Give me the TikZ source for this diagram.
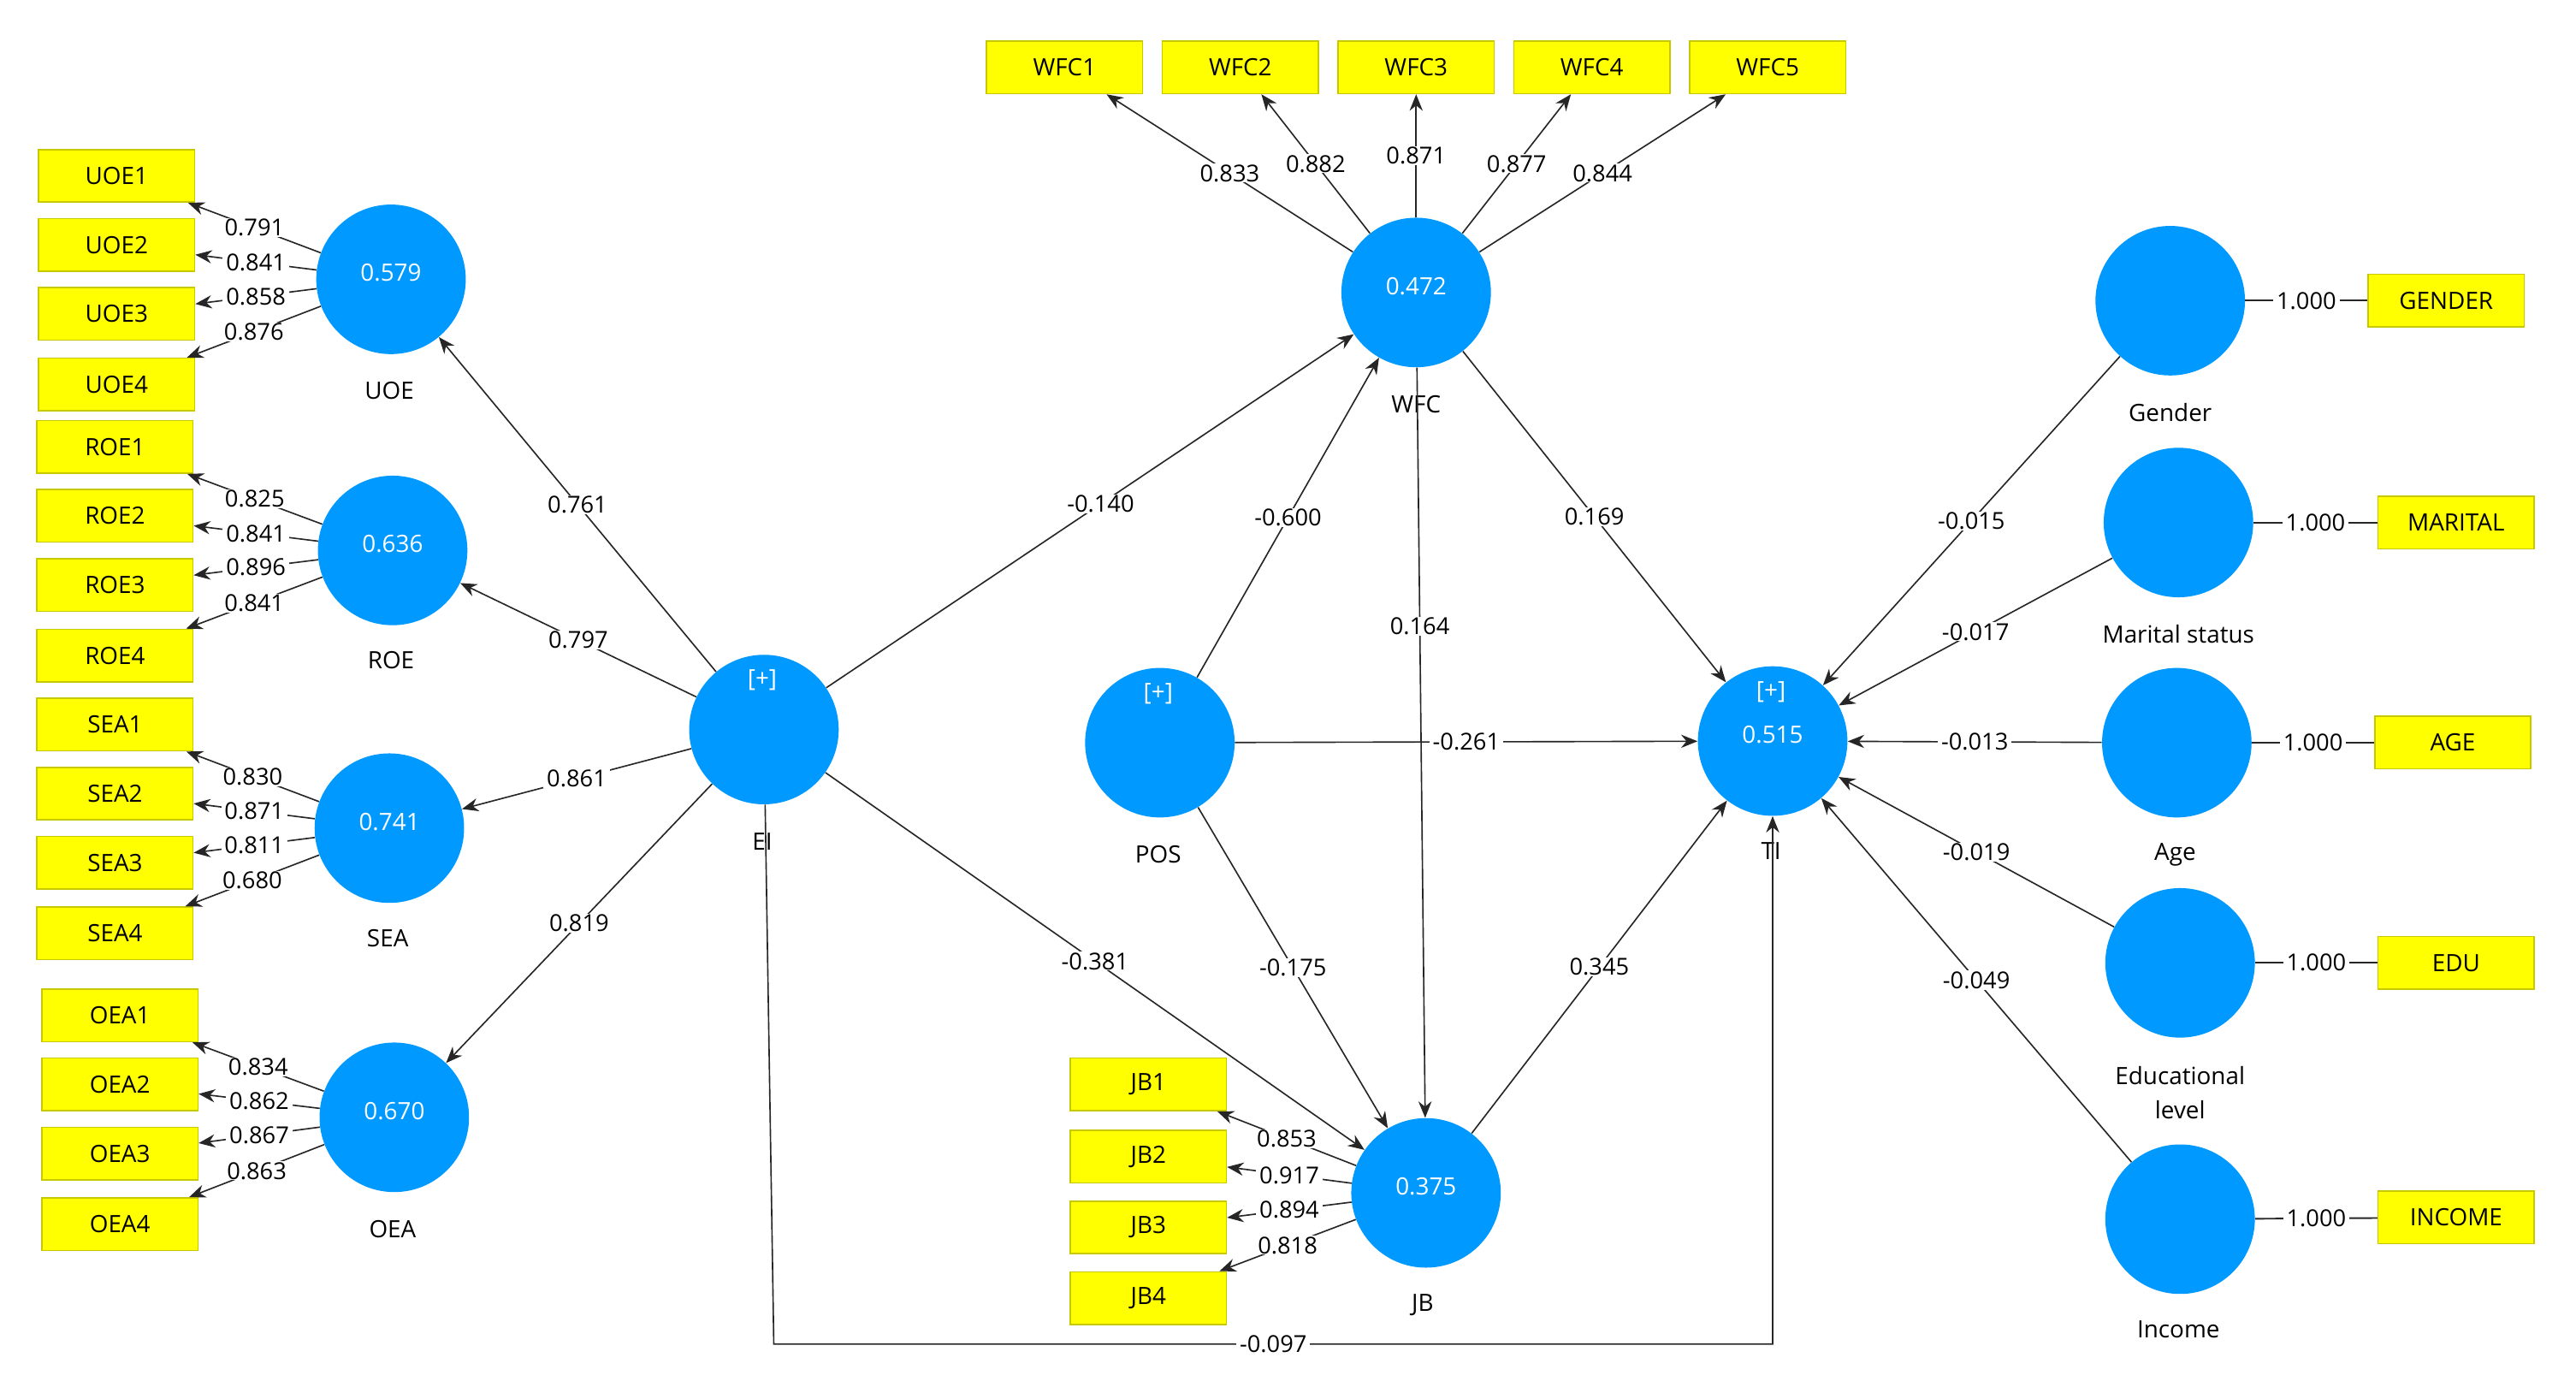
\documentclass[tikz,border=0pt]{standalone}
\usepackage{fontspec}
\setmainfont{Open Sans}
\usetikzlibrary{arrows.meta}
\definecolor{lvblue}{RGB}{0,153,255}
\definecolor{mvyellow}{RGB}{255,255,0}
\definecolor{mvborder}{RGB}{200,200,0}
\newcommand{\fsA}{\fontsize{14.5}{21}\selectfont}
\newcommand{\fsB}{\fontsize{14.2}{17}\selectfont}
\begin{document}
\begin{tikzpicture}[x=1pt,y=-1pt,
  lv/.style={circle,fill=lvblue,minimum size=91pt,inner sep=0pt},
  mv/.style={rectangle,fill=mvyellow,draw=mvborder,line width=0.8pt,minimum width=95pt,minimum height=32pt,inner sep=0pt,font=\fsA},
  lvtext/.style={text=white,font=\fsA,inner sep=0pt},
  lbl/.style={font=\fsA,inner sep=0pt,align=center},
  coef/.style={fill=white,inner xsep=2pt,inner ysep=0.5pt,font=\fsB},
  arr/.style={draw=black!85,line width=0.85pt,-{Stealth[length=10pt,width=8pt]}},
  link/.style={draw=black!85,line width=1pt}]
\useasboundingbox (0,0) rectangle (1568,844);
\fill[white] (0,0) rectangle (1568,844);

% latent variables
\node[lv] (UOE) at (238,170) {};
\node[lv] (ROE) at (239,335) {};
\node[lv] (SEA) at (237,504) {};
\node[lv] (OEA) at (240,680) {};
\node[lv] (EI) at (465,444) {};
\node[lv] (POS) at (706,452) {};
\node[lv] (WFC) at (862,178) {};
\node[lv] (TI) at (1079,451) {};
\node[lv] (JB) at (868,726) {};
\node[lv] (Gender) at (1321,183) {};
\node[lv] (Marital) at (1326,318) {};
\node[lv] (Age) at (1325,452) {};
\node[lv] (Edu) at (1327,586) {};
\node[lv] (Income) at (1327,742) {};

% values inside circles
\node[lvtext] (UOEv) at (238,166) {0.579};
\node[lvtext] (ROEv) at (239,331) {0.636};
\node[lvtext] (SEAv) at (237,500) {0.741};
\node[lvtext] (OEAv) at (240,676) {0.670};
\node[lvtext] (WFCv) at (862,174) {0.472};
\node[lvtext] (JBv) at (868,722) {0.375};
\node[lvtext] (TIv) at (1079,447) {0.515};
\node[lvtext] (TIp) at (1078,421) {[+]};
\node[lvtext] (EIp) at (464,414) {[+]};
\node[lvtext] (POSp) at (705,422) {[+]};

% names below circles
\node[lbl] (UOEl) at (237,238) {UOE};
\node[lbl] (ROEl) at (238,402) {ROE};
\node[lbl] (SEAl) at (236,571) {SEA};
\node[lbl] (OEAl) at (239,748) {OEA};
\node[lbl] (EIl) at (464,512) {EI};
\node[lbl] (POSl) at (705,520) {POS};
\node[lbl] (WFCl) at (862,246) {WFC};
\node[lbl] (TIl) at (1078,518) {TI};
\node[lbl] (JBl) at (866,794) {JB};
\node[lbl] (Genderl) at (1321,251) {Gender};
\node[lbl] (Maritall) at (1326,386) {Marital status};
\node[lbl] (Agel) at (1324,520) {Age};
\node[lbl] (Edul) at (1327,665) {Educational\\level};
\node[lbl] (Incomel) at (1326,809) {Income};

% indicators
\foreach \i/\y in {1/107,2/149,3/191,4/234} \node[mv] (UOE\i) at (71,\y) {UOE\i};
\foreach \i/\y in {1/272,2/314,3/356,4/399} \node[mv] (ROE\i) at (70,\y) {ROE\i};
\foreach \i/\y in {1/441,2/483,3/525,4/568} \node[mv] (SEA\i) at (70,\y) {SEA\i};
\foreach \i/\y in {1/618,2/660,3/702,4/745} \node[mv] (OEA\i) at (73,\y) {OEA\i};
\foreach \i/\x in {1/648,2/755,3/862,4/969,5/1076} \node[mv] (WFC\i) at (\x,41) {WFC\i};
\foreach \i/\y in {1/660,2/704,3/747,4/790} \node[mv] (JB\i) at (699,\y) {JB\i};
\node[mv] (GENDER) at (1489,183) {GENDER};
\node[mv] (MARITAL) at (1495,318) {MARITAL};
\node[mv] (AGE) at (1493,452) {AGE};
\node[mv] (EDU) at (1495,586) {EDU};
\node[mv] (INCOME) at (1495,741) {INCOME};

% loadings
\draw[arr] (UOE) -- node[coef] {0.791} (UOE1);
\draw[arr] (UOE) -- node[coef] {0.841} (UOE2);
\draw[arr] (UOE) -- node[coef] {0.858} (UOE3);
\draw[arr] (UOE) -- node[coef] {0.876} (UOE4);
\draw[arr] (ROE) -- node[coef] {0.825} (ROE1);
\draw[arr] (ROE) -- node[coef] {0.841} (ROE2);
\draw[arr] (ROE) -- node[coef] {0.896} (ROE3);
\draw[arr] (ROE) -- node[coef] {0.841} (ROE4);
\draw[arr] (SEA) -- node[coef] {0.830} (SEA1);
\draw[arr] (SEA) -- node[coef] {0.871} (SEA2);
\draw[arr] (SEA) -- node[coef] {0.811} (SEA3);
\draw[arr] (SEA) -- node[coef] {0.680} (SEA4);
\draw[arr] (OEA) -- node[coef] {0.834} (OEA1);
\draw[arr] (OEA) -- node[coef] {0.862} (OEA2);
\draw[arr] (OEA) -- node[coef] {0.867} (OEA3);
\draw[arr] (OEA) -- node[coef] {0.863} (OEA4);
\draw[arr] (WFC) -- node[coef] {0.833} (WFC1);
\draw[arr] (WFC) -- node[coef] {0.882} (WFC2);
\draw[arr] (WFC) -- node[coef] {0.871} (WFC3);
\draw[arr] (WFC) -- node[coef] {0.877} (WFC4);
\draw[arr] (WFC) -- node[coef] {0.844} (WFC5);
\draw[arr] (JB) -- node[coef] {0.853} (JB1);
\draw[arr] (JB) -- node[coef] {0.917} (JB2);
\draw[arr] (JB) -- node[coef] {0.894} (JB3);
\draw[arr] (JB) -- node[coef] {0.818} (JB4);

% single-item links
\draw[link] (Gender) -- node[coef] {1.000} (GENDER);
\draw[link] (Marital) -- node[coef] {1.000} (MARITAL);
\draw[link] (Age) -- node[coef] {1.000} (AGE);
\draw[link] (Edu) -- node[coef] {1.000} (EDU);
\draw[link] (Income) -- node[coef] {1.000} (INCOME);

% structural paths
\draw[arr] (EI) -- node[coef] {0.761} (UOE);
\draw[arr] (EI) -- node[coef] {0.797} (ROE);
\draw[arr] (EI) -- node[coef] {0.861} (SEA);
\draw[arr] (EI) -- node[coef] {0.819} (OEA);
\draw[arr] (EI) -- node[coef,pos=0.52] {-0.140} (WFC);
\draw[arr] (EI) -- node[coef] {-0.381} (JB);
\coordinate (c1) at (471,818);
\coordinate (c2) at (1079,818);
\draw[arr] (EI) -- (c1) -- node[coef] {-0.097} (c2) -- (TI);
\draw[arr] (POS) -- node[coef] {-0.600} (WFC);
\draw[arr] (POS) -- node[coef] {-0.261} (TI);
\draw[arr] (POS) -- node[coef] {-0.175} (JB);
\draw[arr] (WFC) -- node[coef] {0.169} (TI);
\draw[arr] (WFC) -- node[coef,pos=0.345] {0.164} (JB);
\draw[arr] (JB) -- node[coef] {0.345} (TI);
\draw[arr] (Gender) -- node[coef] {-0.015} (TI);
\draw[arr] (Marital) -- node[coef] {-0.017} (TI);
\draw[arr] (Age) -- node[coef] {-0.013} (TI);
\draw[arr] (Edu) -- node[coef] {-0.019} (TI);
\draw[arr] (Income) -- node[coef] {-0.049} (TI);
\end{tikzpicture}
\end{document}
